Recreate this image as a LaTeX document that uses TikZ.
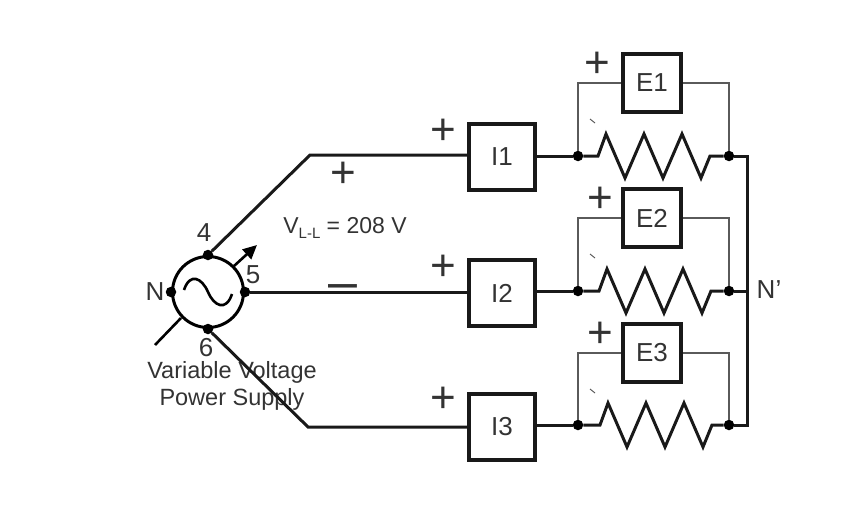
\documentclass[tikz,border=0pt]{standalone}
\usepackage{fontspec}
\setmainfont{Liberation Sans}
\usetikzlibrary{arrows.meta}

\definecolor{wiregray}{HTML}{5A5A5A}
\definecolor{textgray}{HTML}{333333}

\tikzset{
    wire/.style={line width=3pt, black!90},
    meterwire/.style={line width=2.6pt, wiregray},
    box/.style={draw, line width=3.2pt, black!90, minimum size=#1, inner sep=0pt, text=textgray, font=\fontsize{26}{26}\selectfont},
    dot/.style={circle, fill=black, inner sep=0pt, minimum size=10.5pt},
    lbl/.style={text=textgray, inner sep=0pt, font=\fontsize{26}{26}\selectfont},
    smalllbl/.style={text=textgray, inner sep=0pt, align=center, font=\fontsize{23.5}{27}\selectfont},
    sign/.style={text=textgray, inner sep=0pt, yshift=-3pt, font=\fontsize{44}{44}\selectfont}
}

\begin{document}
\begin{tikzpicture}[x=1pt, y=-1pt]
    \useasboundingbox (0,0) rectangle (867,530);

    % labels under the wires
    \node[smalllbl] (supply) at (232,386) {Variable Voltage\\Power Supply};
    \node[smalllbl, font=\fontsize{23}{23}\selectfont] (vll) at (345,228) {V\raisebox{-5pt}{\fontsize{15}{15}\selectfont L-L} = 208 V};

    % source
    \node[draw, circle, line width=3pt, minimum size=71pt, inner sep=0pt] (src) at (208,292) {};
    \node[dot] (pN) at (src.west) {};
    \node[dot] (p4) at (src.north) {};
    \node[dot] (p5) at (src.east) {};
    \node[dot] (p6) at (src.south) {};
    \draw[line width=2.6pt] (184,290) .. controls (190,272) and (202,278) .. (208,292)
        .. controls (214,306) and (226,312) .. (232,294);
    \coordinate (arrowfoot) at (234,266);
    \coordinate (arrowtip) at (257,245);
    \draw[-{Triangle[length=14pt, width=13pt]}, line width=2.6pt] (arrowfoot) -- (arrowtip);
    \coordinate (slashin) at (181,318);
    \coordinate (slashout) at (155,345);
    \draw[line width=2.6pt] (slashin) -- (slashout);

    \node[lbl] (lN) at (155,292) {N};
    \node[lbl] (l4) at (204,233) {4};
    \node[lbl] (l5) at (253,275) {5};
    \node[lbl] (l6) at (206,348) {6};

    % three phases
    \foreach \n/\iy/\ey/\ry/\dx/\px/\py in {1/157/83/156/0/597/62, 2/293/218/291/1/600/197, 3/427/353/425/2/600/332} {
        \node[box=66pt] (I\n) at (502,\iy) {I\n};
        \node[box=58pt] (E\n) at (652,\ey) {E\n};
        \node[dot] (a\n) at (578,\ry) {};
        \node[dot] (b\n) at (729,\ry) {};
        \node[sign] (ps\n) at (\px,\py) {+};

        \draw[wire] (I\n.east |- a\n) -- (a\n);
        \draw[meterwire] (a\n) |- (E\n.west);
        \draw[meterwire] (b\n) |- (E\n.east);
        \draw[wire] (a\n) -- (598+\dx,\ry) -- ++(8,-22) -- ++(19,44) -- ++(19,-44) -- ++(19,44)
            -- ++(19,-44) -- ++(19,44) -- ++(9,-22) -- (b\n);

        % small tick
        \draw[wiregray, line width=1pt] (590,\ey+36) -- ++(5,4);
    }

    % line wires
    \coordinate (bend1) at (310,155);
    \coordinate (bend3) at (308,427);
    \draw[wire] (p4) -- (bend1) -- (I1.west |- bend1);
    \draw[wire] (p5) -- (I2.west |- p5);
    \draw[wire] (p6) -- (bend3) -- (I3.west |- bend3);

    % neutral bus
    \coordinate (bus1) at (747,156);
    \coordinate (bus3) at (747,425);
    \draw[wire] (b1) -- (bus1) -- (bus3) -- (b3);
    \draw[wire] (b2) -- (b2 -| bus1);
    \node[lbl] (lN2) at (769,290) {N'};

    % polarity marks
    \node[sign] (pi1) at (443,129) {+};
    \node[sign] (pi2) at (443,265) {+};
    \node[sign] (pi3) at (443,397) {+};
    \node[sign] (pw) at (343,172) {+};
    \node[sign, yshift=-5pt, font=\fontsize{52}{52}\selectfont] (mw) at (343,284) {--};
\end{tikzpicture}
\end{document}
